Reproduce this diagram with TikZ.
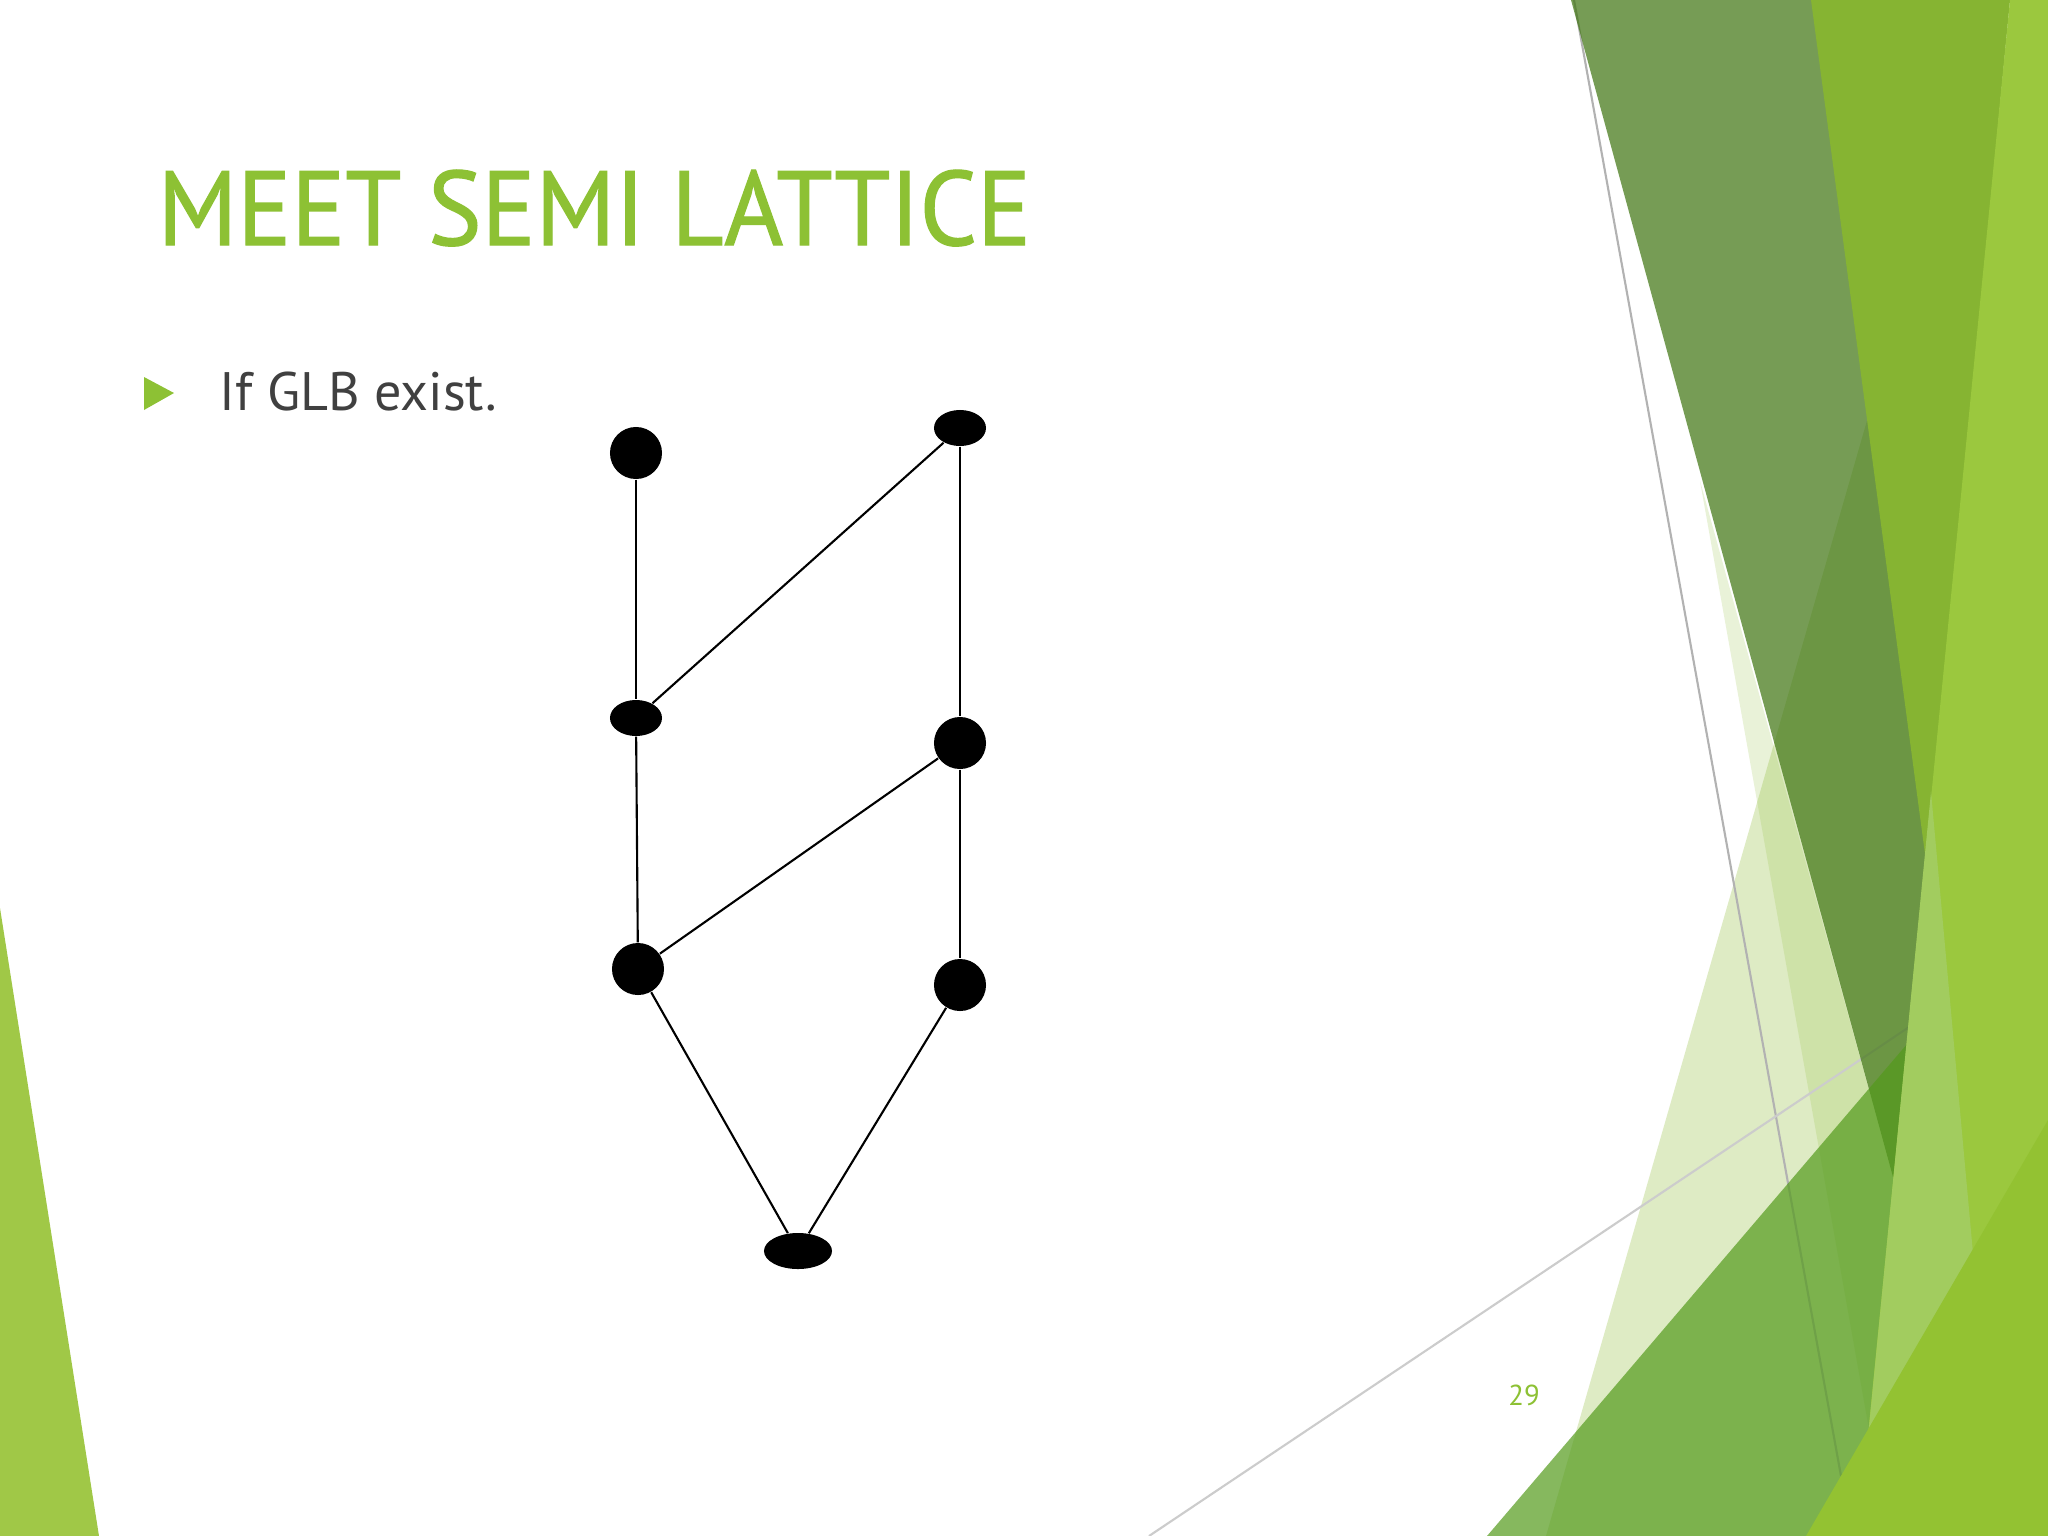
\documentclass[tikz,border=0pt]{standalone}
\usepackage{fontspec}
\setmainfont{PT Sans}
\newfontfamily\titlefont[FakeStretch=0.955, FakeBold=1.2]{PT Sans}
\usetikzlibrary{shapes.geometric}

\definecolor{facetgreen}{RGB}{141,193,52}
\definecolor{bodygray}{RGB}{64,64,64}
\definecolor{palegreen}{RGB}{146,190,60}
\definecolor{mutedgreen}{RGB}{61,115,14}
\definecolor{bandgreen}{RGB}{134,180,50}
\definecolor{lightgreen}{RGB}{155,200,62}
\definecolor{wedgegreen}{RGB}{162,204,95}
\definecolor{midgreen}{RGB}{83,154,27}
\definecolor{brightgreen}{RGB}{147,194,50}
\definecolor{leftgreen}{RGB}{160,200,71}

\begin{document}
\begin{tikzpicture}[x=0.01cm, y=-0.01cm,
    dot/.style={circle, fill=black, inner sep=0pt, minimum size=0.52cm},
    flatdot/.style={ellipse, fill=black, inner sep=0pt, minimum width=0.52cm, minimum height=0.36cm},
    edge/.style={line width=0.6pt}]
    \useasboundingbox (0,0) rectangle (2048,1536);
    \fill[white] (0,0) rectangle (2048,1536);

    % Left facet
    \fill[leftgreen] (0,908) -- (99,1536) -- (0,1536) -- cycle;

    % Right facets
    \fill[palegreen, opacity=0.3] (1988,0) -- (2048,0) -- (2048,1536) -- (1546,1536) -- cycle;
    \fill[palegreen, opacity=0.2] (1700,481) -- (1893,1177) -- (1960,1536) -- (1888,1536) -- cycle;
    \draw[gray!60, line width=0.6pt] (1574,0) -- (1841,1476);
    \draw[gray!40, line width=0.6pt] (1149,1536) -- (2048,934);
    \fill[mutedgreen, opacity=0.7] (1571,0) -- (1830,0) -- (1945,760) -- (1900,1177) -- (1893,1177) -- cycle;
    \fill[bandgreen] (1811,0) -- (2010,0) -- (1927,869) -- cycle;
    \fill[midgreen, opacity=0.7] (1487,1536) -- (2048,879) -- (2048,1536) -- cycle;
    \fill[lightgreen] (2010,0) -- (2048,0) -- (2048,1536) -- (1858,1536) -- cycle;
    \fill[wedgegreen] (1931,792) -- (2000,1550) -- (1857,1550) -- cycle;
    \fill[brightgreen] (1806,1536) -- (2048,1120) -- (2048,1536) -- cycle;

    % Title and bullet
    \node[anchor=base west, inner sep=0pt, text=facetgreen,
        font=\titlefont\fontsize{30}{36}\selectfont] (title) at (157,245) {MEET SEMI LATTICE};
    \fill[facetgreen] (144,377) -- (174,393) -- (144,410) -- cycle;
    \node[anchor=base west, inner sep=0pt, text=bodygray,
        font=\fontsize{15.4}{18}\selectfont] (point) at (219,410) {If GLB exist.};

    % Lattice
    \node[dot] (topL) at (636,453) {};
    \node[flatdot] (topR) at (960,428) {};
    \node[flatdot] (midL) at (636,718) {};
    \node[dot] (midR) at (960,743) {};
    \node[dot] (lowL) at (638,969) {};
    \node[dot] (lowR) at (960,985) {};
    \node[flatdot, minimum width=0.68cm] (bot) at (798,1251) {};

    \draw[edge] (topL) -- (midL);
    \draw[edge] (midL) -- (lowL);
    \draw[edge] (topR) -- (midR);
    \draw[edge] (midR) -- (lowR);
    \draw[edge] (topR) -- (midL);
    \draw[edge] (midR) -- (lowL);
    \draw[edge] (lowL) -- (bot);
    \draw[edge] (lowR) -- (bot);

    % Page number
    \node[anchor=base, inner sep=0pt, text=facetgreen,
        font=\fontsize{8.2}{10}\selectfont] (pagenum) at (1524,1405) {29};
\end{tikzpicture}
\end{document}
